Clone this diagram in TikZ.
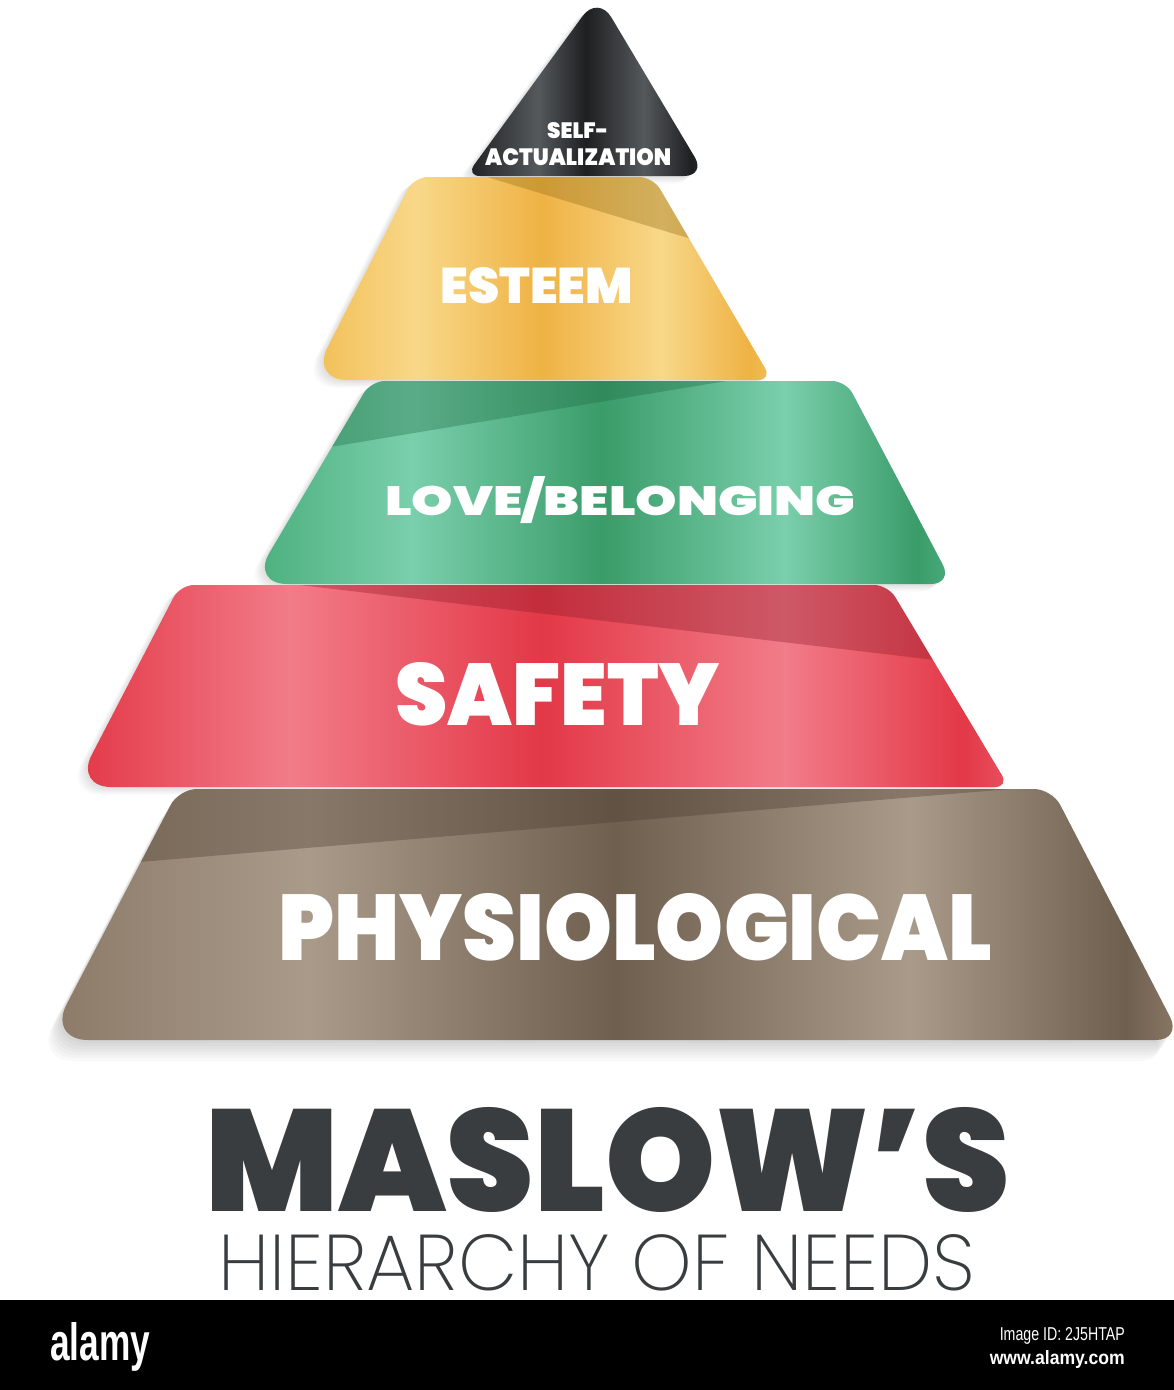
\documentclass[tikz,border=0pt]{standalone}
\usepackage{fontspec}
\setmainfont{Poppins}
\IfFontExistsTF{Poppins Black}{\newfontfamily\heavyfont{Poppins Black}}{%
  \IfFontExistsTF{Poppins ExtraBold}{\newfontfamily\heavyfont{Poppins ExtraBold}}{\newcommand\heavyfont{\bfseries}}}
\IfFontExistsTF{Poppins ExtraLight}{\newfontfamily\thinfont{Poppins ExtraLight}}{%
  \IfFontExistsTF{Poppins Light}{\newfontfamily\thinfont{Poppins Light}}{\newcommand\thinfont{}}}
\newfontfamily\barfont{Liberation Sans}
\usepackage{graphicx}

\definecolor{ymd}{HTML}{F2BE55}\definecolor{ylt}{HTML}{F8D889}\definecolor{ydk}{HTML}{EFB244}
\definecolor{gmd}{HTML}{4BAE7C}\definecolor{glt}{HTML}{7ACFAC}\definecolor{gdk}{HTML}{3A9C69}
\definecolor{rmd}{HTML}{E8505E}\definecolor{rlt}{HTML}{F27C89}\definecolor{rdk}{HTML}{E33847}
\definecolor{bmd}{HTML}{8C7A68}\definecolor{blt}{HTML}{A99A8A}\definecolor{bdk}{HTML}{6F5F4F}
\definecolor{kmd}{HTML}{2E3032}\definecolor{klt}{HTML}{55595C}\definecolor{kdk}{HTML}{1E1F21}
\definecolor{titlegray}{HTML}{393D3F}
\definecolor{yov}{HTML}{9A7420}\definecolor{gov}{HTML}{1E6A43}
\definecolor{rov}{HTML}{8A1A28}\definecolor{bov}{HTML}{4A3A2C}

\pgfdeclarehorizontalshading{yshade}{100bp}{color(0bp)=(ymd); color(25bp)=(ymd); color(36.5bp)=(ylt); color(50bp)=(ydk); color(63bp)=(ylt); color(72.5bp)=(ydk); color(75bp)=(ymd); color(100bp)=(ymd)}
\pgfdeclarehorizontalshading{gshade}{100bp}{color(0bp)=(gmd); color(25bp)=(gmd); color(36.5bp)=(glt); color(50bp)=(gdk); color(63bp)=(glt); color(72.5bp)=(gdk); color(75bp)=(gmd); color(100bp)=(gmd)}
\pgfdeclarehorizontalshading{rshade}{100bp}{color(0bp)=(rdk); color(25bp)=(rdk); color(36.5bp)=(rlt); color(50bp)=(rdk); color(63bp)=(rlt); color(72.5bp)=(rdk); color(75bp)=(rmd); color(100bp)=(rmd)}
\pgfdeclarehorizontalshading{bshade}{100bp}{color(0bp)=(bmd); color(25bp)=(bmd); color(36.5bp)=(blt); color(50bp)=(bdk); color(63bp)=(blt); color(72.5bp)=(bdk); color(75bp)=(bmd); color(100bp)=(bmd)}
\pgfdeclarehorizontalshading{kshade}{100bp}{color(0bp)=(kdk); color(25bp)=(kdk); color(40bp)=(klt); color(50bp)=(kdk); color(62bp)=(klt); color(72bp)=(kdk); color(75bp)=(kmd); color(100bp)=(kmd)}

% corner rounding follows the segment that arrives at a corner
\newcommand\tierK[1]{\path[#1] (586,176) [rounded corners=14] -- (466,176) [rounded corners=26] -- (598,-5) [rounded corners=22] -- (706,176) -- cycle;}
\newcommand\tierY[1]{\path[#1] (530,177) [rounded corners=14] -- (653,177) -- (772,380) [rounded corners=36] -- (311,380) [rounded corners=14] -- (414,177) -- cycle;}
\newcommand\tierG[1]{\path[#1] (600,381) [rounded corners=14] -- (846,381) [rounded corners=22] -- (953,584) [rounded corners=36] -- (251,584) [rounded corners=14] -- (371,381) -- cycle;}
\newcommand\tierR[1]{\path[#1] (530,585) [rounded corners=14] -- (888,585) -- (1009,787) [rounded corners=36] -- (75,787) [rounded corners=14] -- (180,585) -- cycle;}
\newcommand\tierB[1]{\path[#1] (600,789) [rounded corners=18] -- (1052,789) [rounded corners=26] -- (1182,1040) [rounded corners=40] -- (48,1040) [rounded corners=18] -- (179,789) -- cycle;}

\tikzset{
  lbl/.style={text=white, inner sep=0pt, anchor=base west, font=\heavyfont},
  shad/.style={fill=black, opacity=0.022}
}

\begin{document}
\begin{tikzpicture}[x=1pt,y=-1pt]
\useasboundingbox (0,0) rectangle (1174,1390);
\fill[white] (0,0) rectangle (1174,1390);

% shadows
\foreach \i in {1,...,7}{\tierB{shad, xshift=-2*\i pt, yshift=-3*\i pt}}
\foreach \i in {1,...,5}{\tierR{shad, xshift=-2*\i pt, yshift=-1.5*\i pt}}
\foreach \i in {1,...,5}{\tierG{shad, xshift=-2*\i pt, yshift=-1.5*\i pt}}
\foreach \i in {1,...,5}{\tierY{shad, xshift=-2*\i pt, yshift=-1.5*\i pt}}
\foreach \i in {1,...,5}{\tierK{shad, xshift=-2*\i pt, yshift=-1.5*\i pt}}

% brown tier
\tierB{shading=bshade}
\begin{scope}
  \tierB{clip}
  \fill[bov, opacity=0.35] (1010,789) -- (1010,780) -- (0,780) -- (0,873.7) -- cycle;
\end{scope}

% red tier
\tierR{shading=rshade}
\begin{scope}
  \tierR{clip}
  \fill[rov, opacity=0.35] (300,585) -- (300,578) -- (1100,578) -- (1100,679.5) -- cycle;
\end{scope}

% green tier
\tierG{shading=gshade}
\begin{scope}
  \tierG{clip}
  \fill[gov, opacity=0.35] (726,381) -- (726,374) -- (200,374) -- (200,468.7) -- cycle;
\end{scope}

% yellow tier
\tierY{shading=yshade}
\begin{scope}
  \tierY{clip}
  \fill[yov, opacity=0.4] (487,177) -- (487,170) -- (800,170) -- (800,272) -- cycle;
\end{scope}

% black tip
\tierK{shading=kshade}

% labels
\node[lbl] (self) at (547,138) {\resizebox{61pt}{16pt}{SELF-}};
\node[lbl] (actual) at (485,165) {\resizebox{186pt}{17pt}{ACTUALIZATION}};
\node[lbl] (esteem) at (440,303) {\resizebox{193pt}{36pt}{ESTEEM}};
\node[lbl] (love) at (385,515) {\resizebox{470pt}{39pt}{LOVE/BELONGING}};
\node[lbl] (safety) at (395,725) {\resizebox{325pt}{63pt}{SAFETY}};
\node[lbl] (phys) at (278,960) {\resizebox{714pt}{67pt}{PHYSIOLOGICAL}};

% title
\node[inner sep=0pt, anchor=base west, text=titlegray, font=\heavyfont] (title) at (205,1211) {\resizebox{805pt}{104pt}{MASLOW’S}};
\node[inner sep=0pt, anchor=base west, text=titlegray, font=\thinfont] (subtitle) at (218,1290) {\resizebox{757pt}{56pt}{HIERARCHY OF NEEDS}};

% bottom bar
\fill[black] (0,1300) rectangle (1174,1390);
\node[inner sep=0pt, anchor=base west, text=white, font=\barfont\bfseries] (alamy) at (50,1360) {\resizebox{100pt}{38pt}{alamy}};
\node[inner sep=0pt, anchor=base east, text=white, font=\barfont] (imgid) at (1125,1340) {\resizebox{125pt}{13pt}{Image ID: 2J5HTAP}};
\node[inner sep=0pt, anchor=base east, text=white, font=\barfont\bfseries] (www) at (1125,1364) {\resizebox{135pt}{14pt}{www.alamy.com}};
\end{tikzpicture}
\end{document}
